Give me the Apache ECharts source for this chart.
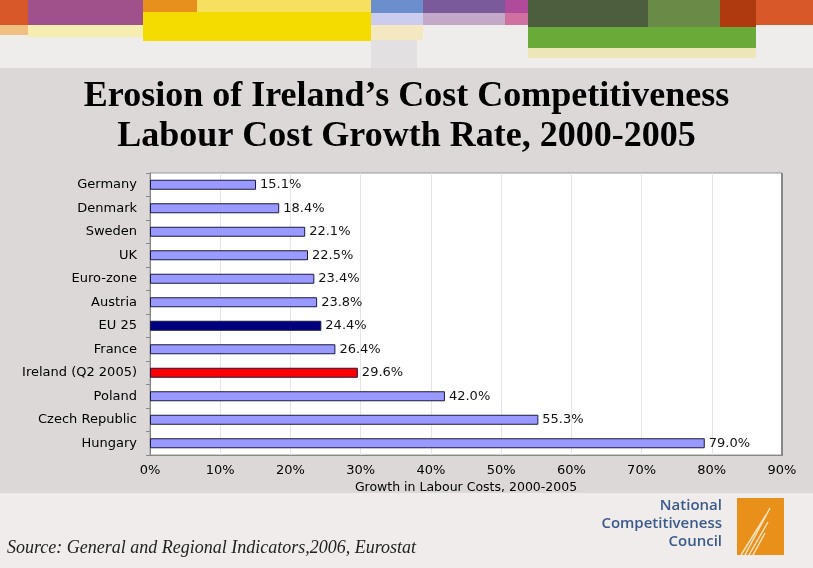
<!DOCTYPE html>
<html>
<head>
<meta charset="utf-8">
<script src="https://cdn.jsdelivr.net/npm/echarts@6/dist/echarts.min.js"></script>
<style>
  html, body { margin: 0; padding: 0; background: #dcd8d7; }
  #chart { width: 813px; height: 568px; }
</style>
</head>
<body>
<div id="chart"></div>
<script>
// data
const countries = ['Germany', 'Denmark', 'Sweden', 'UK', 'Euro-zone', 'Austria', 'EU 25', 'France', 'Ireland (Q2 2005)', 'Poland', 'Czech Republic', 'Hungary']
const growth = [15.1, 18.4, 22.1, 22.5, 23.4, 23.8, 24.4, 26.4, 29.6, 42.0, 55.3, 79.0]
const xTicks = [0, 10, 20, 30, 40, 50, 60, 70, 80, 90]

const chart = echarts.init(document.getElementById('chart'))

function barColor(name) {
  if (name === 'EU 25') return '#000080'
  if (name.indexOf('Ireland') === 0) return '#ff0000'
  return '#9999ff'
}

// background blocks: top banner + lighter footer (decoration)
const banner = [
  [0, 0, 813, 68, '#efedec'],
  [0, 493, 813, 75, '#efeceb'],
  [0, 0, 28, 25, '#d9582a'],
  [0, 25, 28, 10, '#f0c080'],
  [28, 0, 115, 25, '#a0508a'],
  [28, 25, 115, 12, '#f6eeb0'],
  [143, 0, 54, 25, '#e8901e'],
  [197, 0, 174, 12, '#f7e060'],
  [143, 12, 228, 29, '#f5dc00'],
  [371, 0, 52, 13, '#6b8fcc'],
  [371, 13, 52, 12, '#ccccee'],
  [371, 25, 52, 15, '#f3e8c0'],
  [371, 40, 46, 28, '#e2e0e0'],
  [423, 0, 82, 13, '#7a5a9a'],
  [423, 13, 82, 12, '#c4a8c8'],
  [505, 0, 23, 13, '#b04a9a'],
  [505, 13, 23, 12, '#d070a0'],
  [528, 0, 120, 27, '#4d5e3e'],
  [648, 0, 72, 27, '#6a8a48'],
  [720, 0, 36, 27, '#b03a10'],
  [756, 0, 57, 25, '#d9582a'],
  [528, 27, 228, 21, '#6aaa38'],
  [528, 48, 228, 10, '#ede6b8']
]

const graphics = banner.map(b => ({
  type: 'rect',
  shape: { x: b[0], y: b[1], width: b[2], height: b[3] },
  style: { fill: b[4] },
  silent: true
}))

graphics.push(
  { type: 'rect', shape: { x: 781, y: 173, width: 2, height: 283 }, style: { fill: '#888' }, silent: true, z: 10 },
  {
    type: 'text', x: 7, y: 548,
    style: { text: 'Source: General and Regional Indicators,2006, Eurostat', textVerticalAlign: 'middle', font: 'italic 18px "Liberation Serif"', fill: '#222' }
  },
  { type: 'rect', shape: { x: 737, y: 498, width: 47, height: 57 }, style: { fill: '#e8901a' }, silent: true },
  { type: 'polyline', shape: { points: [[741, 555], [766, 515]] }, style: { stroke: '#fbe3c0', lineWidth: 1.5 }, silent: true },
  { type: 'polyline', shape: { points: [[745, 555], [770, 508]] }, style: { stroke: '#fbe3c0', lineWidth: 1.5 }, silent: true },
  { type: 'polyline', shape: { points: [[749, 555], [768, 522]] }, style: { stroke: '#fbe3c0', lineWidth: 1.5 }, silent: true },
  { type: 'polyline', shape: { points: [[753, 555], [765, 533]] }, style: { stroke: '#fbe3c0', lineWidth: 1.5 }, silent: true }
)

const logoLines = ['National', 'Competitiveness', 'Council']
logoLines.forEach((t, i) => {
  graphics.push({
    type: 'text', x: 722, y: 506 + i * 18, z: 20,
    style: { text: t, textAlign: 'right', textVerticalAlign: 'middle', font: '600 15px "Open Sans"', fill: '#3a5a8a' }
  })
})

const option = {
  animation: false,
  backgroundColor: '#dcd8d7',
  title: {
    text: 'Erosion of Ireland’s Cost Competitiveness\nLabour Cost Growth Rate, 2000-2005',
    left: 'center',
    top: 72,
    textStyle: {
      fontFamily: 'Liberation Serif',
      fontWeight: 'bold',
      fontSize: 36,
      lineHeight: 40,
      color: '#000'
    }
  },
  grid: {
    left: 150, right: 31, top: 173, bottom: 113,
    show: true, backgroundColor: '#fff', borderColor: '#999', borderWidth: 1
  },
  xAxis: {
    type: 'value',
    min: xTicks[0],
    max: xTicks[xTicks.length - 1],
    interval: 10,
    name: 'Growth in Labour Costs, 2000-2005',
    nameLocation: 'middle',
    nameGap: 26,
    nameTextStyle: { fontFamily: 'DejaVu Sans', fontSize: 12.5, color: '#000' },
    axisLine: { show: true, lineStyle: { color: '#888' } },
    axisTick: { show: false },
    axisLabel: { formatter: '{value}%', fontFamily: 'DejaVu Sans', fontSize: 13, color: '#000', margin: 9 },
    splitLine: { show: true, lineStyle: { color: '#e4e4e4' } }
  },
  yAxis: {
    type: 'category',
    data: countries,
    inverse: true,
    axisLine: { show: true, lineStyle: { color: '#888' } },
    axisTick: { show: true, length: 4, lineStyle: { color: '#888' } },
    axisLabel: { fontFamily: 'DejaVu Sans', fontSize: 13, color: '#000', margin: 13 }
  },
  series: [
    {
      type: 'bar',
      barWidth: 10,
      data: growth.map((v, i) => ({
        value: v,
        itemStyle: { color: barColor(countries[i]) }
      })),
      itemStyle: { borderColor: '#1a1a40', borderWidth: 1 },
      label: {
        show: true,
        position: 'right',
        distance: 4,
        formatter: p => p.value.toFixed(1) + '%',
        fontFamily: 'DejaVu Sans',
        fontSize: 13,
        color: '#111'
      }
    }
  ],
  graphic: graphics
}

chart.setOption(option)
</script>
</body>
</html>
